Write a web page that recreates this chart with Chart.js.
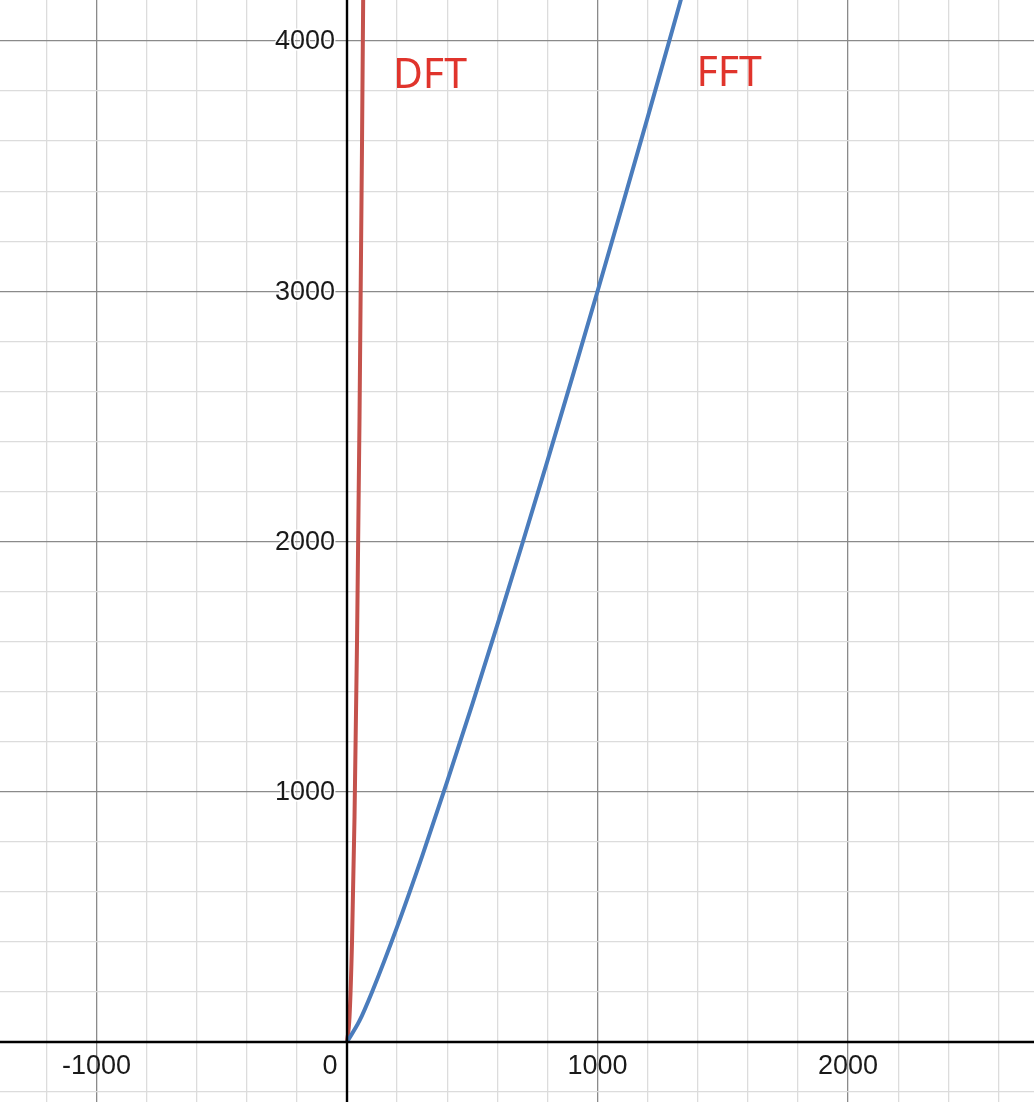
<!DOCTYPE html>
<html><head><meta charset="utf-8">
<script src="https://cdn.jsdelivr.net/npm/chart.js@4"></script>
<style>html,body{margin:0;padding:0;background:#fff}#wrap{width:1034px;height:1102px;position:relative}</style>
</head><body><div id="wrap"><canvas id="c"></canvas></div>
<script>
const fftN = [0, 50, 100, 200, 300, 400, 500, 600, 700, 800, 900, 1000, 1100, 1200, 1300, 1345];
const fftOps = [0, 85, 200, 460, 743, 1041, 1349, 1667, 1992, 2322, 2659, 3000, 3346, 3695, 4049, 4210];
const dftN = [0, 10, 20, 30, 40, 50, 60, 66];
const dftOps = [0, 100, 400, 900, 1600, 2500, 3600, 4356];
const xTickLabels = [-1000, 0, 1000, 2000];
const yTickLabels = [1000, 2000, 3000, 4000];
const curveLabels = [{text:'DFT', x:331, y:3812}, {text:'FFT', x:1525, y:3820}];

const toPts = (xs, ys) => xs.map((x, i) => ({x, y: ys[i]}));

const gridColor = ctx => {
  const v = ctx.tick ? ctx.tick.value : 0;
  if (v === 0) return 'rgba(0,0,0,0)';
  return (Math.round(v) % 1000 === 0) ? '#8a8a8a' : '#dcdcdc';
};

const overlay = {
  id: 'overlay',
  afterDatasetsDraw(chart) {
    const {ctx, scales:{x, y}} = chart;
    const x0 = x.getPixelForValue(0), y0 = y.getPixelForValue(0);
    ctx.save();
    ctx.strokeStyle = '#000'; ctx.lineWidth = 2.4;
    ctx.beginPath(); ctx.moveTo(x0, chart.chartArea.top); ctx.lineTo(x0, chart.chartArea.bottom);
    ctx.moveTo(chart.chartArea.left, y0); ctx.lineTo(chart.chartArea.right, y0); ctx.stroke();
    ctx.font = '27px "Liberation Sans", Arial, sans-serif';
    ctx.lineJoin = 'round';
    ctx.textAlign = 'right'; ctx.textBaseline = 'middle';
    yTickLabels.forEach(v => {
      const py = y.getPixelForValue(v) + 1;
      ctx.strokeStyle = 'rgba(255,255,255,0.9)'; ctx.lineWidth = 3; ctx.strokeText(String(v), x0 - 12, py);
      ctx.fillStyle = '#1a1a1a'; ctx.fillText(String(v), x0 - 12, py);
    });
    ctx.textAlign = 'center'; ctx.textBaseline = 'middle';
    xTickLabels.forEach(v => {
      let px = x.getPixelForValue(v);
      if (v === 0) px = x0 - 17;
      ctx.fillStyle = '#1a1a1a'; ctx.fillText(String(v), px, y0 + 25);
    });
    ctx.font = '41px "Noto Sans", sans-serif';
    ctx.fillStyle = '#e0342c'; ctx.textAlign = 'center'; ctx.textBaseline = 'alphabetic';
    curveLabels.forEach(l => ctx.fillText(l.text, x.getPixelForValue(l.x), y.getPixelForValue(l.y)));
    ctx.restore();
  }
};

new Chart(document.getElementById('c'), {
  type: 'scatter',
  data: { datasets: [
    { label: 'FFT', data: toPts(fftN, fftOps), showLine: true, borderColor: '#4a7cbc', borderWidth: 4, pointRadius: 0, cubicInterpolationMode: 'monotone' },
    { label: 'DFT', data: toPts(dftN, dftOps), showLine: true, borderColor: '#c4524c', borderWidth: 4, pointRadius: 0, cubicInterpolationMode: 'monotone' }
  ]},
  options: {
    responsive: true, maintainAspectRatio: false, animation: false,
    layout: { padding: 0 },
    plugins: { legend: { display: false }, tooltip: { enabled: false } },
    scales: {
      x: { type: 'linear', min: -1385, max: 2742, border: { display: false },
           ticks: { display: false, stepSize: 200 }, afterBuildTicks: s => { s.ticks = []; for (let v = -1200; v <= 2742; v += 200) s.ticks.push({value: v}); },
           grid: { drawTicks: false, color: gridColor, lineWidth: 1.3 } },
      y: { type: 'linear', min: -240, max: 4164, border: { display: false },
           ticks: { display: false, stepSize: 200 }, afterBuildTicks: s => { s.ticks = []; for (let v = -200; v <= 4164; v += 200) s.ticks.push({value: v}); },
           grid: { drawTicks: false, color: gridColor, lineWidth: 1.3 } }
    }
  },
  plugins: [overlay]
});
</script></body></html>
